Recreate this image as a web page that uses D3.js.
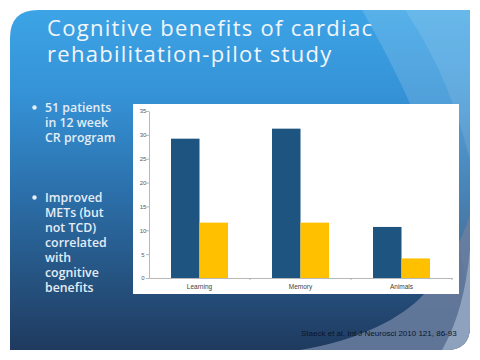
<!DOCTYPE html>
<html><head><meta charset="utf-8">
<script src="https://cdn.jsdelivr.net/npm/d3@7"></script>
<style>html,body{margin:0;padding:0;background:#fff;}svg{display:block;}</style>
</head><body>
<script>
const categories = ["Learning", "Memory", "Animals"];
const seriesBlue = [29.2, 31.3, 10.7];
const seriesGold = [11.6, 11.6, 4.1];
const yTicks = [0, 5, 10, 15, 20, 25, 30, 35];
const titleLines = ["Cognitive benefits of cardiac", "rehabilitation-pilot study"];
const bullet1 = ["51 patients", "in 12 week", "CR program"];
const bullet2 = ["Improved", "METs (but", "not TCD)", "correlated", "with", "cognitive", "benefits"];
const citation = "Staeck et al. Int J Neurosci 2010 121, 86-93";

const W = 480, H = 360;
const svg = d3.select("body").append("svg").attr("width", W).attr("height", H);
const defs = svg.append("defs");

const grad = defs.append("linearGradient").attr("id", "bg").attr("x1", 0).attr("y1", 0).attr("x2", 0).attr("y2", 1);
[["0%", "#3ca4e6"], ["25%", "#3592d6"], ["55%", "#2b6ea8"], ["80%", "#25527f"], ["100%", "#1f3a5f"]]
  .forEach(([o, c]) => grad.append("stop").attr("offset", o).attr("stop-color", c));

const L = 10, T = 10, R = 470, B = 350, r1 = 28, r2 = 24;
const panelPath = `M${L + r1},${T} L${R},${T} L${R},${B - r2} Q${R},${B} ${R - r2},${B} L${L},${B} L${L},${T + r1} Q${L},${T} ${L + r1},${T} Z`;
defs.append("clipPath").attr("id", "panelClip").append("path").attr("d", panelPath);

svg.append("path").attr("d", panelPath).attr("fill", "url(#bg)");
const deco = svg.append("g").attr("clip-path", "url(#panelClip)");
deco.append("path").attr("d", "M362,10 L470,10 L470,300 C455,210 425,120 362,10 Z").attr("fill", "#ffffff").attr("opacity", 0.14);
deco.append("path").attr("d", "M405,10 L470,10 L470,160 C455,100 435,55 405,10 Z").attr("fill", "#ffffff").attr("opacity", 0.1);
deco.append("path").attr("d", "M300,350 C360,340 402,318 424,294 C445,270 460,245 470,215 L470,350 Z").attr("fill", "#6b7fa0").attr("opacity", 0.85);
deco.append("path").attr("d", "M442,350 C458,322 466,290 470,250 L470,350 Z").attr("fill", "#96a9c3").attr("opacity", 0.85);

function fitSpacing(tspanNode, target) {
  const w = tspanNode.getComputedTextLength();
  const n = tspanNode.textContent.length;
  return (target - w) / (n - 1);
}

// Title
const title = svg.append("text").attr("font-family", "'Open Sans', Lato, sans-serif").attr("font-size", 22).attr("fill", "#f2f6fa");
const tsp = titleLines.map((t, i) => title.append("tspan").attr("x", 47).attr("y", 36 + i * 26).text(t));
title.attr("letter-spacing", Math.max(0, fitSpacing(tsp[0].node(), 325)));

// Bullets
const bulletFont = 12.3;
function bullets(lines, y0) {
  svg.append("circle").attr("cx", 34.5).attr("cy", y0 - 4.5).attr("r", 2.2).attr("fill", "#e6eef6");
  const tx = svg.append("text").attr("class", "bul").attr("font-family", "'Open Sans', Lato, sans-serif").attr("font-weight", 600)
    .attr("font-size", bulletFont).attr("fill", "#e4edf6");
  return lines.map((t, i) => tx.append("tspan").attr("x", 45).attr("y", y0 + i * 15).text(t));
}
const b1 = bullets(bullet1, 112);
const b2 = bullets(bullet2, 202);
{
  const s1 = fitSpacing(b1[0].node(), 67);
  const s2 = fitSpacing(b2[3].node(), 61);
  svg.selectAll("text.bul").attr("letter-spacing", Math.max(0, (s1 + s2) / 2));
}

// Chart box
svg.append("rect").attr("x", 133).attr("y", 104).attr("width", 326).attr("height", 190).attr("fill", "#ffffff");

const x0 = 149, x1 = 452, yTop = 111, yBot = 278;
const pad = 1 - 57 / 101;
const x = d3.scaleBand().domain(categories).range([x0, x1]).paddingInner(pad).paddingOuter(pad / 2);
const xs = d3.scaleBand().domain(["a", "b"]).range([0, x.bandwidth()]);
const y = d3.scaleLinear().domain([0, 35]).range([yBot, yTop]);

const chart = svg.append("g");
categories.forEach((c, i) => {
  chart.append("rect").attr("x", x(c) + xs("a")).attr("y", y(seriesBlue[i])).attr("width", xs.bandwidth())
    .attr("height", y(0) - y(seriesBlue[i])).attr("fill", "#1e5580");
  chart.append("rect").attr("x", x(c) + xs("b")).attr("y", y(seriesGold[i])).attr("width", xs.bandwidth())
    .attr("height", y(0) - y(seriesGold[i])).attr("fill", "#ffc000");
});

const yAxis = chart.append("g").attr("transform", `translate(${x0},0)`)
  .call(d3.axisLeft(y).tickValues(yTicks).tickSize(3).tickSizeOuter(0));
yAxis.select(".domain").attr("stroke", "#a6a6a6").attr("stroke-width", 0.8);
yAxis.selectAll(".tick line").attr("stroke", "#a6a6a6").attr("stroke-width", 0.8);
yAxis.selectAll(".tick text").attr("font-family", "'Liberation Sans', Arial, sans-serif").attr("font-size", 6).attr("fill", "#595959")
  .attr("x", -6).attr("text-anchor", "middle");

const xAxis = chart.append("g").attr("transform", `translate(0,${yBot})`)
  .call(d3.axisBottom(x).tickSize(0).tickSizeOuter(0));
xAxis.select(".domain").attr("stroke", "#a6a6a6").attr("stroke-width", 0.8);
xAxis.selectAll(".tick text").attr("font-family", "'Liberation Sans', Arial, sans-serif").attr("font-size", 6.5).attr("fill", "#404040").attr("dy", 0).attr("y", 11);
const step = x.step();
[1, 2, 3].forEach(k => chart.append("line").attr("x1", x0 + k * step).attr("x2", x0 + k * step)
  .attr("y1", yBot).attr("y2", yBot + 2).attr("stroke", "#a6a6a6").attr("stroke-width", 0.8));

// Citation
svg.append("text").attr("x", 301).attr("y", 336).attr("font-family", "'Liberation Sans', Arial, sans-serif")
  .attr("font-size", 8).attr("fill", "#0b1628").text(citation);
</script>
</body></html>
